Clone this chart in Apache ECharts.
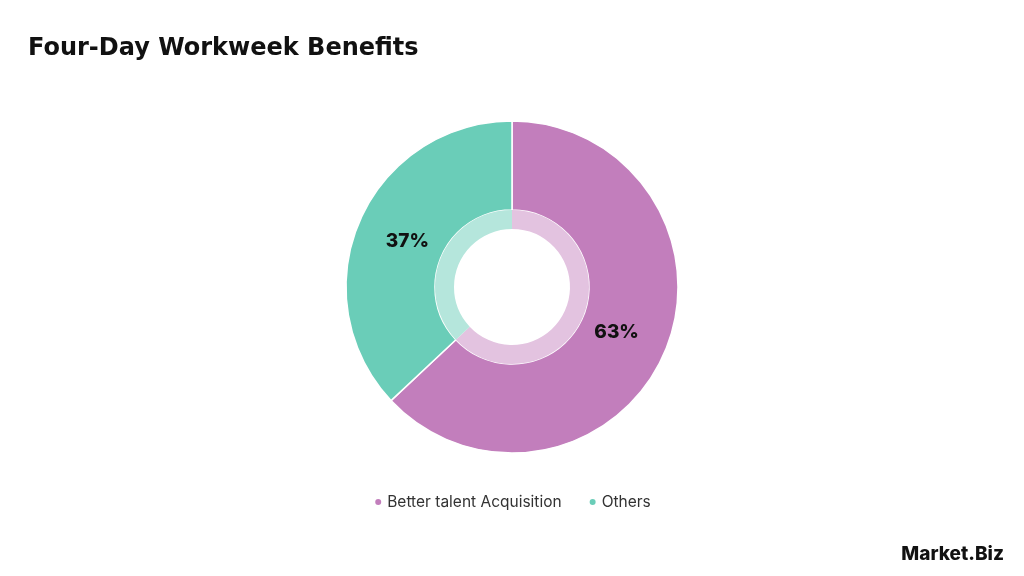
<!DOCTYPE html>
<html><head><meta charset="utf-8">
<script src="https://cdn.jsdelivr.net/npm/echarts@6/dist/echarts.min.js"></script>
<style>html,body{margin:0;padding:0;background:#fff}#c{width:1024px;height:576px}</style>
</head><body><div id="c"></div>
<script>
const categories = ["Better talent Acquisition", "Others"];
const values = [63, 37];
const colors = ["#C27EBC", "#6ACDB8"];
const lightColors = ["#E3C3E0", "#B5E6DC"];
const chart = echarts.init(document.getElementById('c'));
chart.setOption({
  title: {text: "Four-Day Workweek Benefits", left: 23, top: 32,
    textStyle: {fontFamily: "DejaVu Sans", fontWeight: 'bold', fontSize: 24, color: "#111"}},
  legend: {bottom: 61, left: 'center', icon: 'circle', itemWidth: 8, itemHeight: 8, itemGap: 26,
    data: categories, textStyle: {fontFamily: "Inter", fontSize: 15.5, color: "#333"}},
  graphic: [{type: 'text', right: 20, bottom: 12,
    style: {text: "Market.Biz", font: "800 19px Inter", fill: "#111"}}],
  series: [
    {type: 'pie', radius: [77, 166], center: [512, 287], startAngle: 90, clockwise: true,
     silent: true, itemStyle: {borderColor: '#fff', borderWidth: 1.5},
     label: {show: false}, labelLine: {show: false},
     data: categories.map((n, i) => ({name: n, value: values[i], itemStyle: {color: colors[i]}}))},
    {type: 'pie', radius: [77, 145], center: [512, 287], startAngle: 90, clockwise: true,
     silent: true, legendHoverLink: false, itemStyle: {color: 'rgba(0,0,0,0)'},
     label: {position: 'inside', formatter: '{d}%', fontFamily: "Inter", fontWeight: 800, fontSize: 19, color: '#111'},
     labelLine: {show: false},
     data: categories.map((n, i) => ({name: n + "  ", value: values[i]}))},
    {type: 'pie', radius: [58, 77], center: [512, 287], startAngle: 90, clockwise: true,
     silent: true, label: {show: false}, labelLine: {show: false}, legendHoverLink: false,
     itemStyle: {borderWidth: 0},
     data: categories.map((n, i) => ({name: n + " ", value: values[i], itemStyle: {color: lightColors[i]}}))}
  ]
});
</script></body></html>
